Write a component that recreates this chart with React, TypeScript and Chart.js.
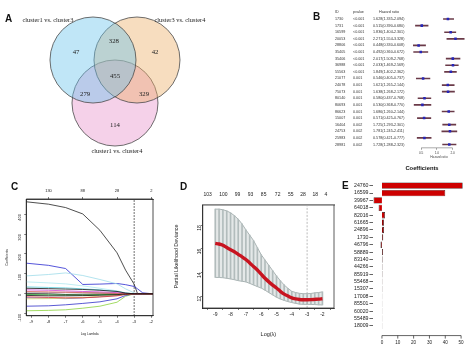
import React, { useEffect, useRef } from 'react';
import { Chart, registerables } from 'chart.js';

Chart.register(...registerables);
const SANS = '"Liberation Sans", Arial, sans-serif';
const SERIF = '"Liberation Serif", "Times New Roman", serif';
Chart.defaults.font.family = SANS;
Chart.defaults.color = '#222';

// ---------------- A: Venn ----------------
const vennSetNames = ['cluster1 vs. cluster3', 'cluster3 vs. cluster4', 'cluster1 vs. cluster4'];
const vennCenterX = [-1, 1, 0];
const vennCenterY = [1, 1, -1];
const vennRegionCounts = [47, 328, 42, 455, 279, 329, 114];

// ---------------- B: forest table ----------------
const forestIds = ['1730', '1731', '16599', '20053', '28806', '35405', '35406', '36988', '55563', '21077',
  '24078', '75073', '80140', '80693', '86623', '15007', '16404', '24753', '25983', '28981'];
const forestPvalues = ['<0.001', '<0.001', '<0.001', '<0.001', '<0.001', '<0.001', '<0.001', '<0.001', '<0.001', '0.001',
  '0.001', '0.001', '0.001', '0.001', '0.001', '0.001', '0.002', '0.002', '0.002', '0.002'];
const forestHR = [1.628, 0.515, 1.836, 2.271, 0.448, 0.492, 2.017, 2.033, 1.849, 0.546,
  1.621, 1.638, 0.580, 0.530, 1.686, 0.571, 1.725, 1.781, 0.578, 1.728];
const forestLow = [1.335, 0.390, 1.404, 1.554, 0.330, 0.360, 1.509, 1.469, 1.402, 0.405,
  1.265, 1.268, 0.437, 0.368, 1.260, 0.425, 1.293, 1.245, 0.421, 1.288];
const forestHigh = [2.094, 0.680, 2.301, 3.328, 0.608, 0.672, 2.768, 2.569, 2.362, 0.737,
  2.144, 2.172, 0.768, 0.770, 2.144, 0.767, 2.301, 2.411, 0.777, 2.323];
const forestTicks = [0.5, 1, 2];
const forestTickLabels = ['0.5', '1.0', '2.0'];

// ---------------- C: LASSO coefficient paths ----------------
const cX = [-9.3, -8, -7, -6, -5, -4, -3.5, -3, -2.8, -2.5, -1.9];
const cBlackTop = [462, 450, 433, 401, 319, 206, 119, 48, 0, 0, 0];
const cBlue = [154, 143, 127, 47, 49, 52, 46, 37, 25, 5, 0];
const cCyan1 = [90, 97, 105, 92, 72, 50, 25, 5, 0, 0, 0];
const cCyan2 = [60, 55, 50, 40, 28, 15, 5, 0, 0, 0, 0];
const cBlueNeg = [-62, -60, -55, -48, -40, -25, -8, 0, 0, 0, 0];
const cGreenNeg = [-85, -83, -80, -72, -62, -42, -12, 0, 0, 0, 0];
const cBlack2 = [28, 26, 24, 22, 18, 12, 4, 0, 0, 0, 0];
const cBlack3 = [-8, -10, -10, -9, -7, -4, -1, 0, 0, 0, 0];
const cRed1 = [-15, -18, -20, -20, -16, -10, -3, 0, 0, 0, 0];
const cRed2 = [12, 10, 8, 6, 4, 2, 1, 0, 0, 0, 0];
const cMagenta = [20, 18, 15, 12, 10, 6, 2, 0, 0, 0, 0];
const cYellow = [-25, -24, -22, -18, -12, -6, -2, 0, 0, 0, 0];
const cGray = [5, 6, 8, 8, 6, 3, 1, 0, 0, 0, 0];
const cGreen2 = [-3, -5, -6, -6, -4, -2, -1, 0, 0, 0, 0];
const cBlue2 = [-20, -22, -24, -20, -14, -8, -2, 0, 0, 0, 0];
const cCyan3 = [35, 32, 30, 25, 20, 12, 4, 0, 0, 0, 0];
const cBlack4 = [2, 0, -3, -2, -1, 0, 0, 0, 0, 0, 0];
const cLambdaLine = -3;
const cXTicks = [-9, -8, -7, -6, -5, -4, -3, -2];
const cYTicks = [-100, 0, 100, 200, 300, 400];
const cTopPos = [-8, -6, -4, -2];
const cTopLabels = ['130', '88', '28', '2'];

// ---------------- D: cross-validation ----------------
const dX = [-9, -8.75, -8.5, -8.25, -8, -7.75, -7.5, -7.25, -7, -6.75, -6.5, -6.25, -6, -5.75, -5.5,
  -5.25, -5, -4.75, -4.5, -4.25, -4, -3.75, -3.5, -3.25, -3, -2.75, -2.5, -2.25, -2];
const dMean = [16.45, 16.4, 16.3, 16.1, 15.92, 15.75, 15.53, 15.32, 15.09, 14.8, 14.5, 14.2, 13.85, 13.5, 13.2,
  12.93, 12.68, 12.4, 12.16, 12.0, 11.84, 11.76, 11.71, 11.69, 11.69, 11.7, 11.72, 11.74, 11.77];
const dUpper = [19.35, 19.35, 19.3, 19.2, 19.04, 18.8, 18.5, 18.1, 17.6, 17.15, 16.7, 16.1, 15.5, 15.05, 14.6,
  14.15, 13.7, 13.3, 12.94, 12.65, 12.4, 12.3, 12.23, 12.2, 12.2, 12.22, 12.27, 12.3, 12.35];
const dLower = [13.58, 13.57, 13.55, 13.5, 13.45, 13.38, 13.3, 13.25, 13.2, 13.07, 12.94, 12.8, 12.68, 12.5, 12.29,
  12.1, 11.9, 11.75, 11.63, 11.53, 11.45, 11.38, 11.32, 11.3, 11.3, 11.29, 11.28, 11.26, 11.25];
const dLambdaLine = -3;
const dXTicks = [-9, -8, -7, -6, -5, -4, -3, -2];
const dYTicks = [12, 14, 16, 18];
const dTopPos = [-9, -8.1, -7.3, -6.55, -5.8, -5.0, -4.25, -3.55, -2.85, -2.25];
const dTopLabels = ['103', '100', '99', '93', '85', '72', '55', '28', '18', '4'];

// ---------------- E: coefficients ----------------
const eIds = ['24760', '16599', '39967', '64018', '82016', '61665', '24896', '1730', '46796', '58889',
  '83140', '44266', '85919', '55468', '15307', '17008', '85501', '60020', '55489', '18009'];
const eValues = [51, 40, -5.3, -2.1, 1.9, 1.3, 1.3, 0.8, -0.9, 0.7,
  0.4, 0.3, 0.3, 0.25, 0.25, 0.2, 0.2, 0.2, 0.2, 0.2];
const eXTicks = [0, 10, 20, 30, 40, 50];

// ---------------- helpers ----------------
const noInteract = { legend: { display: false }, tooltip: { enabled: false } };

function boxPlugin(id: string, color: string, width: number, skipTop = false) {
  return {
    id,
    afterDraw(chart: any) {
      const { ctx, chartArea: a } = chart;
      ctx.save();
      ctx.strokeStyle = color;
      ctx.lineWidth = width;
      ctx.beginPath();
      if (!skipTop) { ctx.moveTo(a.left, a.top); ctx.lineTo(a.right, a.top); }
      ctx.moveTo(a.right, a.top); ctx.lineTo(a.right, a.bottom);
      ctx.lineTo(a.left, a.bottom); ctx.lineTo(a.left, a.top);
      ctx.stroke();
      ctx.restore();
    },
  };
}

function ChartCanvas({ left, top, width, height, build }: any) {
  const ref = useRef<HTMLCanvasElement | null>(null);
  useEffect(() => {
    if (!ref.current) return;
    const chart = new Chart(ref.current, build());
    return () => chart.destroy();
  }, []);
  return (
    <canvas ref={ref} width={width} height={height}
      style={{ position: 'absolute', left, top, width, height, display: 'block' }} />
  );
}

// ---------------- A ----------------
const vennFill = ['rgba(105,195,237,0.42)', 'rgba(237,175,102,0.42)', 'rgba(230,145,202,0.42)'];
const vennRegionPos = [[-1.77, 1.37], [-0.05, 1.88], [1.82, 1.37], [0, 0.26], [-1.36, -0.58], [1.32, -0.58], [0, -2.02]];
const vennNamePos = [[-3.05, 2.86], [2.95, 2.86], [0.09, -3.23]];

const buildVenn = () => ({
  type: 'scatter',
  data: {
    datasets: vennSetNames.map((name, i) => ({
      label: name,
      data: [{ x: vennCenterX[i], y: vennCenterY[i] }],
      pointRadius: 43,
      pointHoverRadius: 43,
      backgroundColor: vennFill[i],
      borderColor: '#4a4a4a',
      borderWidth: 0.8,
    })),
  },
  options: {
    responsive: false, animation: false, events: [],
    layout: { padding: 0, autoPadding: false },
    plugins: noInteract,
    scales: {
      x: { display: false, min: -5.227, max: 5.682 },
      y: { display: false, min: -4.581, max: 3.791 },
    },
  },
  plugins: [{
    id: 'vennText',
    afterDatasetsDraw(chart: any) {
      const { ctx, scales: { x, y } } = chart;
      ctx.save();
      ctx.fillStyle = '#222';
      ctx.textAlign = 'center';
      ctx.textBaseline = 'middle';
      ctx.font = `6.8px ${SERIF}`;
      vennRegionCounts.forEach((c, i) => {
        ctx.fillText(String(c), x.getPixelForValue(vennRegionPos[i][0]), y.getPixelForValue(vennRegionPos[i][1]));
      });
      ctx.font = `6.4px ${SERIF}`;
      vennSetNames.forEach((n, i) => {
        ctx.fillText(n, x.getPixelForValue(vennNamePos[i][0]), y.getPixelForValue(vennNamePos[i][1]));
      });
      ctx.restore();
    },
  }],
});

// ---------------- B ----------------
const fmt = (v: number) => v.toFixed(3);
const buildForest = () => ({
  type: 'bar',
  data: {
    labels: forestIds,
    datasets: [
      {
        type: 'line', indexAxis: 'y', data: forestHR, showLine: false, pointStyle: 'rect',
        pointRadius: 1.8, pointBackgroundColor: '#2626b8', pointBorderColor: '#2626b8', pointBorderWidth: 0, order: 1,
      },
      {
        type: 'bar', data: forestIds.map((_, i) => [forestLow[i], forestHigh[i]]),
        backgroundColor: '#6a3a48', barThickness: 1, order: 2,
      },
    ],
  },
  options: {
    indexAxis: 'y', responsive: false, animation: false, events: [],
    layout: { padding: { left: 173, right: 9, top: 15.7, bottom: 2.5 }, autoPadding: false },
    plugins: noInteract,
    scales: {
      y: { display: false },
      x: {
        type: 'logarithmic', min: 0.35, max: 3.45,
        afterBuildTicks: (s: any) => { s.ticks = forestTicks.map((v) => ({ value: v })); },
        ticks: { callback: (_v: any, i: number) => forestTickLabels[i], font: { size: 3.2 }, padding: 1, autoSkip: false, maxRotation: 0, color: '#444' },
        grid: { drawOnChartArea: false, tickLength: 2, color: '#555', lineWidth: 0.5 },
        border: { display: false },
        title: { display: true, text: 'Hazard ratio', font: { size: 3.2 }, padding: { top: 0, bottom: 0 }, color: '#444' },
      },
    },
  },
  plugins: [{
    id: 'forestTable',
    afterDraw(chart: any) {
      const { ctx, scales: { x, y } } = chart;
      ctx.save();
      ctx.fillStyle = '#333';
      ctx.textBaseline = 'middle';
      ctx.textAlign = 'left';
      ctx.font = `3.7px ${SANS}`;
      const hy = y.getPixelForValue(-1);
      ctx.fillText('ID', 95, hy);
      ctx.fillText('pvalue', 113, hy);
      ctx.fillText('Hazard ratio', 139, hy);
      forestIds.forEach((id, i) => {
        const py = y.getPixelForValue(i);
        ctx.fillText(id, 95, py);
        ctx.fillText(forestPvalues[i], 113, py);
        ctx.fillText(`${fmt(forestHR[i])}(${fmt(forestLow[i])}-${fmt(forestHigh[i])})`, 133, py);
      });
      const yb = chart.chartArea.bottom;
      ctx.strokeStyle = '#555';
      ctx.lineWidth = 0.5;
      ctx.beginPath();
      ctx.moveTo(x.getPixelForValue(forestTicks[0]), yb);
      ctx.lineTo(x.getPixelForValue(forestTicks[forestTicks.length - 1]), yb);
      ctx.stroke();
      ctx.restore();
    },
  }],
});

// ---------------- C ----------------
const cLines = [
  { v: cBlack2, c: '#111' }, { v: cBlack3, c: '#111' }, { v: cRed1, c: '#e03030' }, { v: cRed2, c: '#e06060' },
  { v: cMagenta, c: '#d040d0' }, { v: cYellow, c: '#e8e070' }, { v: cGray, c: '#999' }, { v: cGreen2, c: '#2aa02a' },
  { v: cBlue2, c: '#4060e0' }, { v: cCyan3, c: '#60d0e0' }, { v: cBlack4, c: '#111' },
  { v: cCyan2, c: '#b0e8f0' }, { v: cCyan1, c: '#a0dcea' }, { v: cBlueNeg, c: '#3030c8' },
  { v: cGreenNeg, c: '#8cd23c' }, { v: cBlue, c: '#2a2ad0' }, { v: cBlackTop, c: '#222' },
];
const buildC = () => ({
  type: 'line',
  data: {
    datasets: [
      ...cLines.map((l) => ({
        data: cX.map((x, i) => ({ x, y: l.v[i] })), borderColor: l.c, borderWidth: 0.8, pointRadius: 0, tension: 0,
      })),
      {
        data: [{ x: cLambdaLine, y: -110 }, { x: cLambdaLine, y: 476 }], borderColor: '#111',
        borderDash: [1.5, 1.5], borderWidth: 0.8, pointRadius: 0,
      },
    ],
  },
  options: {
    responsive: false, animation: false, events: [],
    layout: { padding: { left: 4.7, right: 7, top: 4.2, bottom: 25.7 }, autoPadding: false },
    plugins: noInteract,
    scales: {
      x: {
        type: 'linear', min: -9.3, max: -1.9,
        afterBuildTicks: (s: any) => { s.ticks = cXTicks.map((v) => ({ value: v })); },
        ticks: { font: { size: 4 }, padding: 2, autoSkip: false, maxRotation: 0 },
        grid: { drawOnChartArea: false, tickLength: 2, color: '#222', lineWidth: 0.6 },
        border: { color: '#222', width: 0.8 },
        title: { display: true, text: 'Log Lambda', font: { size: 3.2 }, padding: { top: 5.4, bottom: 0.5 } },
      },
      x2: {
        type: 'linear', position: 'top', min: -9.3, max: -1.9,
        afterBuildTicks: (s: any) => { s.ticks = cTopPos.map((v) => ({ value: v })); },
        ticks: { callback: (_v: any, i: number) => cTopLabels[i], font: { size: 4 }, padding: 4, autoSkip: false, maxRotation: 0 },
        grid: { drawOnChartArea: false, tickLength: 2, color: '#222', lineWidth: 0.6 },
        border: { color: '#222', width: 0.8 },
      },
      y: {
        type: 'linear', min: -110, max: 476,
        afterBuildTicks: (s: any) => { s.ticks = cYTicks.map((v) => ({ value: v })); },
        ticks: { font: { size: 4 }, padding: 4, minRotation: 90, maxRotation: 90, autoSkip: false },
        grid: { drawOnChartArea: false, tickLength: 2, color: '#222', lineWidth: 0.6 },
        border: { color: '#222', width: 0.8 },
        title: { display: true, text: 'Coefficients', font: { size: 3.2 }, padding: { top: 0.5, bottom: 2.4 } },
      },
    },
  },
  plugins: [boxPlugin('boxC', '#222', 0.8)],
});

// ---------------- D ----------------
const buildD = () => ({
  type: 'line',
  data: {
    datasets: [
      {
        data: dX.map((x, i) => ({ x, y: dUpper[i] })), borderColor: '#a9b3b3', borderWidth: 1, pointRadius: 0,
        fill: '+1', backgroundColor: 'rgba(205,214,214,0.55)', order: 5,
      },
      {
        data: dX.map((x, i) => ({ x, y: dLower[i] })), borderColor: '#a9b3b3', borderWidth: 1, pointRadius: 0, order: 4,
      },
      {
        type: 'bar', data: dX.map((x, i) => ({ x, y: [dLower[i], dUpper[i]] })), backgroundColor: '#b2bcbc',
        barThickness: 1, order: 3,
      },
      {
        data: [{ x: dLambdaLine, y: 11 }, { x: dLambdaLine, y: 19.7 }], borderColor: '#aaa', borderDash: [2, 1.5],
        borderWidth: 0.8, pointRadius: 0, order: 2,
      },
      {
        data: dX.map((x, i) => ({ x, y: dMean[i] })), borderColor: '#c81420', borderWidth: 3.4, pointRadius: 0,
        tension: 0.3, order: 1,
      },
    ],
  },
  options: {
    responsive: false, animation: false, events: [],
    layout: { padding: { left: 12.7, right: 4, top: 5, bottom: 23.7 }, autoPadding: false },
    plugins: noInteract,
    scales: {
      x: {
        type: 'linear', min: -9.28, max: -1.78,
        afterBuildTicks: (s: any) => { s.ticks = dXTicks.map((v) => ({ value: v })); },
        ticks: { font: { size: 5 }, padding: 2, autoSkip: false, maxRotation: 0 },
        grid: { drawOnChartArea: false, tickLength: 2, color: '#222', lineWidth: 0.6 },
        border: { color: '#222', width: 0.9 },
        title: { display: true, text: 'Log(λ)', font: { size: 5.5 }, padding: { top: 10.7, bottom: 1 } },
      },
      x2: {
        type: 'linear', position: 'top', min: -9.28, max: -1.78,
        afterBuildTicks: (s: any) => { s.ticks = dTopPos.map((v) => ({ value: v })); },
        ticks: { callback: (_v: any, i: number) => dTopLabels[i], font: { size: 5 }, padding: 7, autoSkip: false, maxRotation: 0 },
        grid: { drawOnChartArea: false, drawTicks: false },
        border: { color: '#8a8a8a', width: 1.8 },
      },
      y: {
        type: 'linear', min: 10.99, max: 19.7,
        afterBuildTicks: (s: any) => { s.ticks = dYTicks.map((v) => ({ value: v })); },
        ticks: { font: { size: 5 }, padding: 1, minRotation: 90, maxRotation: 90, autoSkip: false },
        grid: { drawOnChartArea: false, tickLength: 2, color: '#222', lineWidth: 0.6 },
        border: { color: '#222', width: 0.9 },
        title: { display: true, text: 'Partial Likelihood Deviance', font: { size: 5.3 }, padding: { top: 1, bottom: 12.7 } },
      },
    },
  },
  plugins: [boxPlugin('boxD', '#333', 0.8, true)],
});

// ---------------- E ----------------
const eColor = (v: number) => {
  const t = Math.min(1, Math.abs(v) / 2);
  return `rgb(${Math.round(45 + 160 * t)},${Math.round(12 * (1 - t))},${Math.round(12 * (1 - t))})`;
};
const buildE = () => ({
  type: 'bar',
  data: {
    labels: eIds,
    datasets: [{
      data: eValues, backgroundColor: eValues.map(eColor), borderColor: '#111', borderWidth: 0.6,
      barPercentage: 0.86, categoryPercentage: 1,
    }],
  },
  options: {
    indexAxis: 'y', responsive: false, animation: false, events: [],
    layout: { padding: { left: 17, right: 2, top: 7, bottom: 6.3 }, autoPadding: false },
    plugins: noInteract,
    scales: {
      x: {
        min: -5.7, max: 51.2,
        afterBuildTicks: (s: any) => { s.ticks = eXTicks.map((v) => ({ value: v })); },
        ticks: { font: { size: 4.6 }, padding: 10.3, autoSkip: false, maxRotation: 0 },
        grid: { display: false, drawTicks: false },
        border: { display: false },
      },
      y: {
        ticks: { font: { size: 5.2 }, padding: 1, autoSkip: false },
        grid: { drawOnChartArea: false, tickLength: 3.5, color: '#222', lineWidth: 0.7, offset: false },
        border: { display: false },
      },
    },
  },
  plugins: [{
    id: 'eAxis',
    afterDraw(chart: any) {
      const { ctx, scales: { x }, chartArea: a } = chart;
      const ya = a.bottom + 6;
      ctx.save();
      ctx.strokeStyle = '#222';
      ctx.lineWidth = 0.7;
      ctx.beginPath();
      ctx.moveTo(x.getPixelForValue(eXTicks[0]), ya);
      ctx.lineTo(x.getPixelForValue(eXTicks[eXTicks.length - 1]), ya);
      eXTicks.forEach((t) => {
        const px = x.getPixelForValue(t);
        ctx.moveTo(px, ya);
        ctx.lineTo(px, ya + 3);
      });
      ctx.stroke();
      ctx.restore();
    },
  }],
});

const letter = (ch: string, left: number, top: number) => (
  <div style={{ position: 'absolute', left, top, font: `bold 10px ${SANS}`, lineHeight: '10px', color: '#111' }}>{ch}</div>
);

export default function App() {
  return (
    <div style={{ position: 'absolute', left: 0, top: 0, width: 474, height: 362, background: '#fff', overflow: 'hidden' }}>
      <ChartCanvas left={0} top={0} width={240} height={180} build={buildVenn} />
      <ChartCanvas left={240} top={0} width={234} height={162} build={buildForest} />
      <ChartCanvas left={0} top={180} width={160} height={182} build={buildC} />
      <ChartCanvas left={160} top={180} width={178} height={182} build={buildD} />
      <ChartCanvas left={336} top={175} width={138} height={187} build={buildE} />
      {letter('A', 5, 13.7)}
      {letter('B', 313, 11.7)}
      {letter('C', 11, 181.7)}
      {letter('D', 180, 181.7)}
      {letter('E', 342, 181)}
      <div style={{ position: 'absolute', left: 382, top: 164, width: 80, textAlign: 'center', font: `bold 5.8px ${SANS}`, lineHeight: '8px', color: '#111' }}>Coefficients</div>
    </div>
  );
}
